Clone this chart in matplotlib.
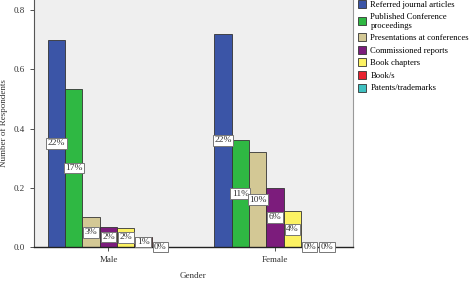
import matplotlib
matplotlib.use("Agg")
import matplotlib.pyplot as plt
import numpy as np

genders = ["Male", "Female"]
series = ["Referred journal articles", "Published Conference\nproceedings",
          "Presentations at conferences", "Commissioned reports",
          "Book chapters", "Book/s", "Patents/trademarks"]
male_vals = [0.70, 0.533, 0.10, 0.067, 0.065, 0.034, 0.0]
female_vals = [0.72, 0.36, 0.32, 0.20, 0.12, 0.0, 0.0]
male_pct = ["22%", "17%", "3%", "2%", "2%", "1%", "0%"]
female_pct = ["22%", "11%", "10%", "6%", "4%", "0%", "0%"]
colors = ["#3b55a7", "#2fb843", "#d3c895", "#7c1c7c", "#fcf263", "#e8212f", "#3fc1c1"]

plt.rcParams['font.family'] = ['Liberation Serif', 'DejaVu Serif']
fig = plt.figure(figsize=(4.74, 2.86), dpi=100)
ax = fig.add_axes([34/474, 1-247/286, (353-34)/474, 247/286])
ax.set_facecolor("#efefef")

x = np.arange(len(genders))
w = 0.104
n = len(series)
for i in range(n):
    vals = [male_vals[i], female_vals[i]]
    pcts = [male_pct[i], female_pct[i]]
    pos = x + (i - (n-1)/2) * w
    ax.bar(pos, vals, width=w, color=colors[i], edgecolor="#333333", linewidth=0.6,
           label=series[i], zorder=2)
    for p, v, t in zip(pos, vals, pcts):
        ax.text(p, v/2, t, ha="center", va="center", fontsize=6.8, color="#333333",
                zorder=3,
                bbox=dict(boxstyle="square,pad=0.15", facecolor="white",
                          edgecolor="#777777", linewidth=0.7))

ax.set_xlim(-0.447, 1.468)
ax.set_ylim(0, 0.834)
ax.set_yticks([0.0, 0.2, 0.4, 0.6, 0.8])
ax.set_yticklabels(["0.0", "0.2", "0.4", "0.6", "0.8"])
ax.set_xticks(x)
ax.set_xticklabels(genders)
ax.tick_params(axis="both", labelsize=6.5, colors="#333333", length=3, width=0.6)
for s in ["top"]:
    ax.spines[s].set_visible(False)
ax.spines["right"].set_color("#999999")
ax.spines["left"].set_color("#555555")
ax.spines["bottom"].set_color("#222222")
ax.spines["bottom"].set_linewidth(1.0)
ax.set_ylabel("Number of Respondents", fontsize=6.5, color="#333333", labelpad=4)
ax.set_xlabel("Gender", fontsize=6.5, color="#333333", labelpad=6)

leg = fig.legend(loc="upper left", bbox_to_anchor=(358/474, 1.0), frameon=False,
                 fontsize=6.2, handlelength=0.95, handleheight=1.05,
                 handletextpad=0.5, labelspacing=0.42, borderaxespad=0, borderpad=0)
for h in leg.legend_handles:
    h.set_edgecolor("#333333")

fig.savefig("out.png", dpi=100)
